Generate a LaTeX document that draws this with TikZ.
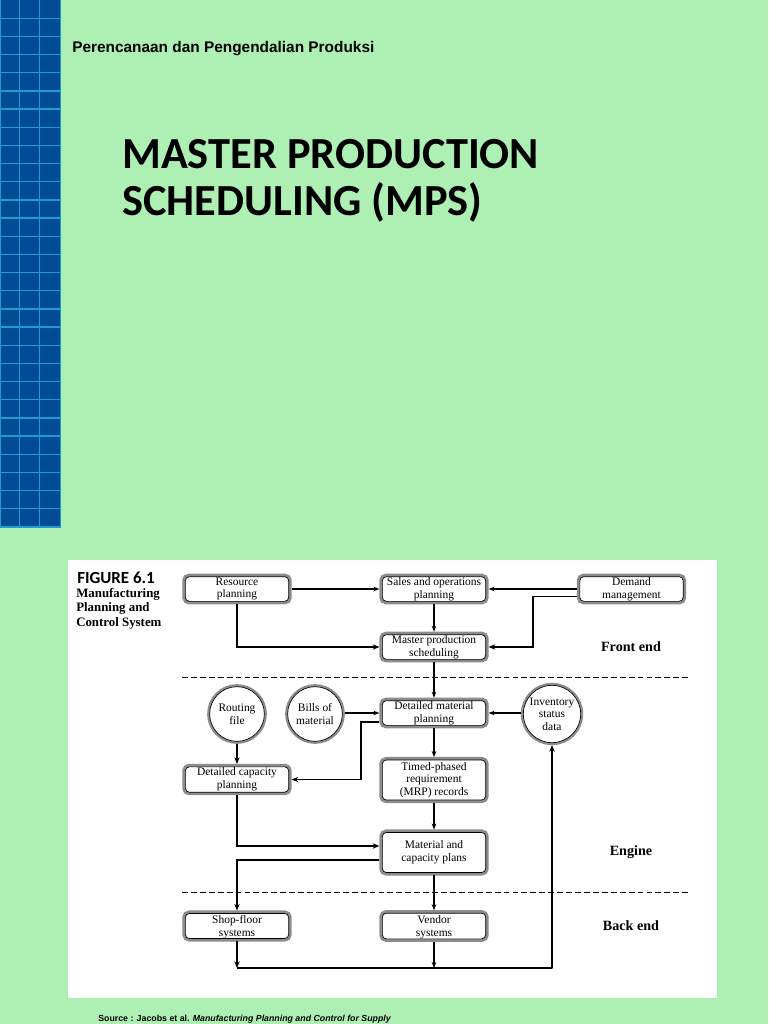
\documentclass[tikz,border=0pt]{standalone}
\usepackage{fontspec}
\setmainfont{Liberation Serif}
\newfontfamily\hv{Liberation Sans}
\newfontfamily\cb{Carlito}
\usetikzlibrary{arrows.meta,calc}
\definecolor{pagegreen}{HTML}{AEF0B4}
\definecolor{gridblue}{HTML}{004B93}
\definecolor{gridline}{HTML}{1E9BD0}
\definecolor{ringgray}{HTML}{8C8C8C}
\tikzset{
  flowbox/.style={rectangle,rounded corners=3pt,preaction={draw=ringgray,line width=4.6pt},
    fill=white,draw=black,line width=.5pt,minimum width=77.5pt,inner sep=0pt,outer sep=2.2pt,
    align=center,font=\fontsize{8.6pt}{9.4pt}\selectfont},
  flowdisc/.style={circle,preaction={draw=ringgray,line width=3.8pt},
    fill=white,draw=black,line width=.5pt,minimum size=41pt,inner sep=0pt,outer sep=1.8pt,
    align=center,font=\fontsize{8.6pt}{9.4pt}\selectfont},
  thin link/.style={line width=.8pt,-{Stealth[length=4.5pt,width=3.4pt]}},
  thick link/.style={line width=1.3pt,-{Stealth[length=5pt,width=4pt]}},
  sep line/.style={line width=.7pt,dash pattern=on 4.4pt off 2.3pt},
  side label/.style={font=\fontsize{10.6pt}{12pt}\selectfont\bfseries,inner sep=0pt},
}
\begin{document}
\begin{tikzpicture}[x=.75pt,y=-.75pt]
\useasboundingbox (0,0) rectangle (768,1024);
\fill[pagegreen] (0,0) rectangle (768,1024);
% grid strip
\fill[gridblue] (0,0) rectangle (61,527);
\foreach \i in {1,...,29} \draw[gridline,line width=1pt] (0,\i*18.17) -- (61,\i*18.17);
\foreach \x in {0.5,19.5,39.5,60.5} \draw[gridline,line width=1pt] (\x,0) -- (\x,527);
% heading
\node[anchor=base west,inner sep=0pt,font=\hv\bfseries\fontsize{11.55pt}{13pt}\selectfont] (head) at (72,53) {Perencanaan dan Pengendalian Produksi};
\node[anchor=north west,inner sep=0pt,align=left,font=\cb\bfseries\fontsize{33.3pt}{35.2pt}\selectfont] (title) at (122,139) {MASTER PRODUCTION\\SCHEDULING (MPS)};
% panel
\fill[white] (68,560) rectangle (717,998);
\node[anchor=base west,inner sep=0pt,font=\cb\bfseries\fontsize{12.7pt}{14pt}\selectfont] (fig) at (77,583) {FIGURE 6.1};
\node[anchor=north west,inner sep=0pt,align=left,font=\fontsize{9.65pt}{10.9pt}\selectfont\bfseries] (figt) at (76,588) {Manufacturing\\Planning and\\Control System};
% boxes
\node[flowbox,minimum height=18.5pt] (res) at (237,589) {Resource\\planning};
\node[flowbox,minimum height=18.5pt] (sales) at (434,589) {Sales and operations\\planning};
\node[flowbox,minimum height=18.5pt] (dem) at (631.5,589) {Demand\\management};
\node[flowbox,minimum height=18.5pt] (mps) at (434,647) {Master production\\scheduling};
\node[flowbox,minimum height=18.5pt] (dmp) at (434,713) {Detailed material\\planning};
\node[flowbox,minimum height=30pt] (mrp) at (434,780) {Timed-phased\\requirement\\(MRP) records};
\node[flowbox,minimum height=19pt] (cap) at (237,779.5) {Detailed capacity\\planning};
\node[flowbox,minimum height=30pt] (plans) at (434,852.5) {Material and\\capacity plans};
\node[flowbox,minimum height=18.5pt] (shop) at (237,926) {\rule{0pt}{7.5pt}Shop-floor\\systems};
\node[flowbox,minimum height=18.5pt] (vend) at (434,926) {\rule{0pt}{8pt}Vendor\\systems};
\node[flowdisc] (rout) at (237,714) {Routing\\file};
\node[flowdisc] (bom) at (315,714) {Bills of\\material};
\node[flowdisc,minimum size=43pt] (inv) at (552,714) {Inventory\\status\\data};
% side labels
\node[side label] (fe) at (631,646.5) {Front end};
\node[side label] (en) at (631,852.5) {Engine};
\node[side label] (be) at (631,926) {Back end};
% separators
\coordinate (s1a) at (182,677); \coordinate (s1b) at (688,677);
\coordinate (s2a) at (182,892); \coordinate (s2b) at (688,892);
\draw[sep line] (s1a) -- (s1b);
\draw[sep line] (s2a) -- (s2b);
% connectors
\draw[thin link] (res.east) -- (sales.west);
\draw[thick link] (res.south) |- (mps.west);
\draw[thin link] (dem.west) -- (sales.east);
\draw[thick link] ($(dem.west)+(0,7.5)$) -| (533,647) -- (mps.east);
\draw[thin link] (sales.south) -- (mps.north);
\draw[thin link] (mps.south) -- (dmp.north);
\draw[thin link] (bom.east |- dmp.west) -- (dmp.west);
\draw[thin link] (inv.west |- dmp.east) -- (dmp.east);
\draw[thin link] (dmp.south) -- (mrp.north);
\draw[thick link] (rout.south) -- (cap.north);
\draw[thick link] ($(dmp.west)+(0,9)$) -| (361,779.5) -- (cap.east);
\draw[thin link] (mrp.south) -- (plans.north);
\draw[thick link] (cap.south) |- ($(plans.west)+(0,-6.5)$);
\draw[thick link] ($(plans.west)+(0,7.5)$) -| (shop.north);
\draw[thin link] (plans.south) -- (vend.north);
\coordinate (sj) at (237,968);
\coordinate (vj) at (434,968);
\coordinate (rc) at (552,968);
\draw[thick link] (shop.south) -- (sj);
\draw[thin link] (vend.south) -- (vj);
\draw[line width=.8pt] (sj) -- (rc);
\draw[thick link,line cap=round] (rc) -- (inv.south);
% source
\node[anchor=base west,inner sep=0pt,font=\hv\bfseries\fontsize{6.6pt}{8pt}\selectfont] (src) at (98,1021) {Source : Jacobs et al. \textit{Manufacturing Planning and Control for Supply}};
\end{tikzpicture}
\end{document}
